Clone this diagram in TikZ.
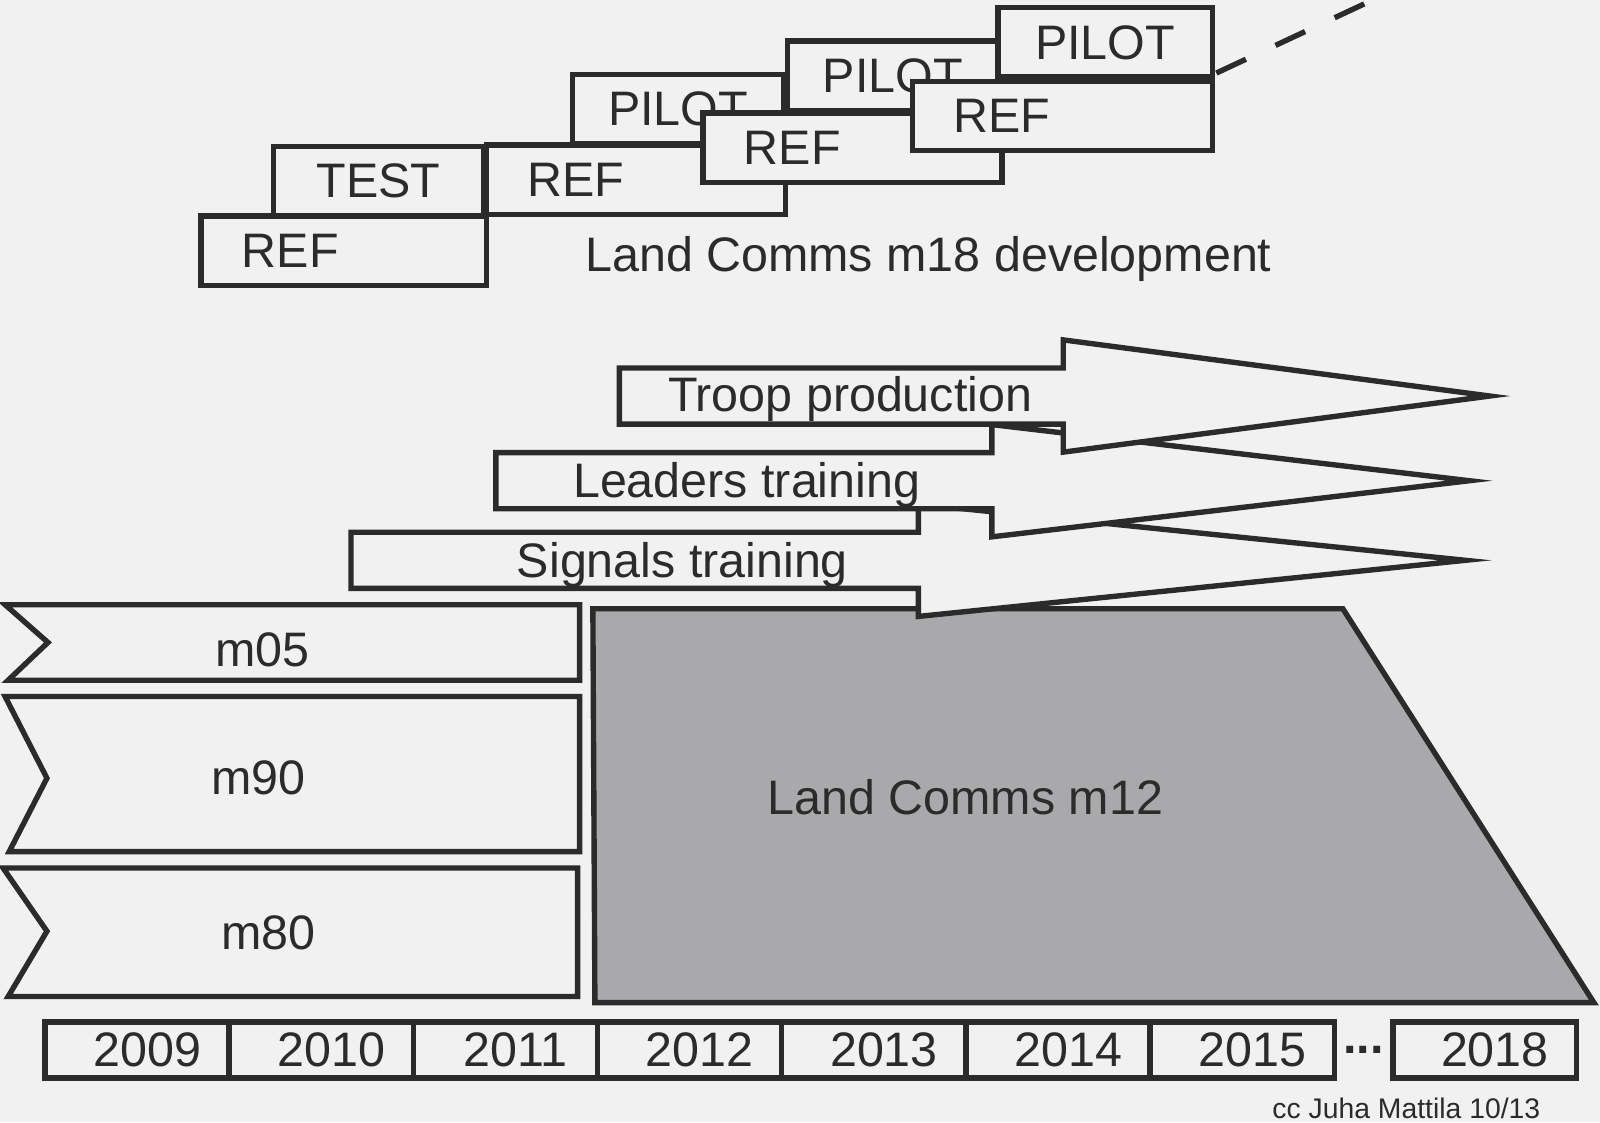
\documentclass[tikz,border=0pt]{standalone}
\usepackage{fontspec}
\setmainfont{Liberation Sans}
\usepackage{tikz}
\usetikzlibrary{positioning}
\definecolor{paper}{HTML}{F1F1F1}
\definecolor{ink}{HTML}{2B2B2B}
\definecolor{slate}{HTML}{A9A9AB}
\newcommand{\yr}[1]{\hspace*{2mm}#1}

\begin{document}
\begin{tikzpicture}[color=ink, line width=1.5pt,
    font=\fontsize{13.5}{16.2}\selectfont,
    stage/.style={draw, fill=paper, inner sep=0pt, outer sep=0pt, minimum height=0.68cm},
    refstage/.style={stage, inner xsep=0.4cm, text width=#1, align=left},
    band/.style={draw, fill=paper},
    lbl/.style={anchor=base west, inner sep=0pt},
    year/.style={draw, fill=paper, inner sep=0pt, outer sep=0pt, minimum width=1.805cm, minimum height=0.55cm},
    trend/.style={dash pattern=on 0.32cm off 0.32cm}]

  \fill[paper] (0,0) rectangle (15.68,10.996);
  \useasboundingbox (0,0) rectangle (15.68,10.996);

  \draw[fill=slate] (5.81,5.03) -- (13.16,5.03) -- (15.62,1.17) -- (5.83,1.17) -- cycle;
  \node (m12) at (9.46,3.18) {Land Comms m12};

  \draw[band] (0.05,5.07) -- (5.68,5.07) -- (5.68,4.33) -- (0.08,4.33) -- (0.47,4.70) -- cycle;
  \node (m05) at (2.57,4.63) {m05};
  \draw[band] (0.05,4.17) -- (5.68,4.17) -- (5.68,2.65) -- (0.09,2.65) -- (0.46,3.37) -- cycle;
  \node (m90) at (2.53,3.37) {m90};
  \draw[band] (0.03,2.49) -- (5.66,2.49) -- (5.66,1.23) -- (0.08,1.23) -- (0.46,1.87) -- cycle;
  \node (m80) at (2.63,1.85) {m80};

  \draw[band] (3.44,5.23) -- (9.00,5.23) -- (9.00,4.955) -- (14.36,5.505) -- (9.00,6.055) -- (9.00,5.78) -- (3.44,5.78) -- cycle;
  \node[lbl] (signals) at (5.04,5.34) {Signals training};
  \draw[band] (4.86,6.01) -- (9.72,6.01) -- (9.72,5.735) -- (14.40,6.285) -- (9.72,6.835) -- (9.72,6.56) -- (4.86,6.56) -- cycle;
  \node[lbl] (leaders) at (5.59,6.12) {Leaders training};
  \draw[band] (6.07,6.84) -- (10.42,6.84) -- (10.42,6.565) -- (14.60,7.115) -- (10.42,7.665) -- (10.42,7.39) -- (6.07,7.39) -- cycle;
  \node[lbl] (troop) at (6.52,6.96) {Troop production};

  \node[refstage=2.0cm] (ref09) at (3.37,8.54) {REF};
  \node[stage, minimum width=2.06cm] (test10) at (3.71,9.22) {TEST};
  \node[refstage=2.13cm] (ref11) at (6.235,9.235) {REF};
  \node[stage, minimum width=2.07cm] (pilot11) at (6.645,9.925) {PILOT};
  \node[stage, minimum width=2.06cm] (pilot12) at (8.75,10.255) {PILOT};
  \node[refstage=2.13cm] (ref12) at (8.355,9.55) {REF};
  \node[stage, minimum width=2.10cm] (pilot13) at (10.83,10.58) {PILOT};
  \node[refstage=2.14cm] (ref13) at (10.41,9.86) {REF};
  \node[lbl] (m18) at (5.71,8.34) {Land Comms m18 development};

  \coordinate (horizon) at (13.46,11.00);
  \draw[trend] ([shift={(0.04,0.04)}]pilot13.south east) -- (horizon);

  \node[year, anchor=west] (y2009) at (0.44,0.705) {\yr{2009}};
  \node[year] (y2010) [right=0cm of y2009] {\yr{2010}};
  \node[year] (y2011) [right=0cm of y2010] {\yr{2011}};
  \node[year] (y2012) [right=0cm of y2011] {\yr{2012}};
  \node[year] (y2013) [right=0cm of y2012] {\yr{2013}};
  \node[year] (y2014) [right=0cm of y2013] {\yr{2014}};
  \node[year] (y2015) [right=0cm of y2014] {\yr{2015}};
  \node[year, minimum width=1.80cm] (y2018) [right=0.575cm of y2015] {\yr{2018}};
  \node[inner sep=0pt] (dots) at (13.36,0.705) {\textbf{...}};

  \node[anchor=base east, inner sep=0pt, font=\fontsize{7.9}{9.5}\selectfont] (credit) at (15.12,0.03) {cc Juha Mattila 10/13};

\end{tikzpicture}
\end{document}
